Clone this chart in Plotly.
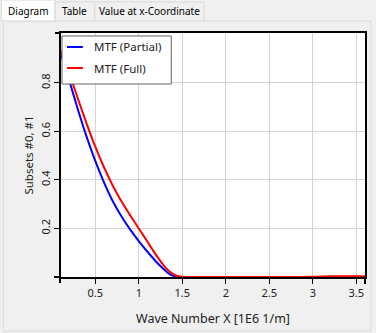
import plotly.graph_objects as go

# ---- data ----
wave_number = [0.1, 0.2, 0.3, 0.4, 0.5, 0.6, 0.7, 0.8, 0.9, 1.0, 1.1, 1.2, 1.3, 1.35, 1.4, 1.45,
               1.5, 1.6, 1.8, 2.0, 2.2, 2.4, 2.6, 2.8, 3.0, 3.1, 3.2, 3.3, 3.4, 3.5, 3.6]
mtf_partial = [0.925, 0.81, 0.69, 0.578, 0.478, 0.39, 0.313, 0.25, 0.196, 0.148, 0.104, 0.063, 0.028, 0.013, 0.004, 0.0005,
               0.0, 0.0, 0.0, 0.0, 0.0, 0.0, 0.0, 0.0, 0.0, 0.0, 0.0, 0.0, 0.0, 0.0, 0.0]
mtf_full = [0.935, 0.84, 0.735, 0.632, 0.537, 0.452, 0.377, 0.312, 0.255, 0.2, 0.145, 0.09, 0.042, 0.024, 0.011, 0.004,
            0.0, 0.0, 0.0, 0.0, 0.0, 0.0, 0.0, 0.0, 0.001, 0.002, 0.003, 0.003, 0.003, 0.003, 0.003]
series_names = ["MTF (Partial)", "MTF (Full)"]
series_colors = ["#0000ff", "#ff0000"]
x_ticks = [0.5, 1, 1.5, 2, 2.5, 3, 3.5]
x_tick_labels = ["0.5", "1", "1.5", "2", "2.5", "3", "3.5"]
y_ticks = [0.2, 0.4, 0.6, 0.8]
y_tick_labels = ["0.2", "0.4", "0.6", "0.8"]
tab_labels = ["Diagram", "Table", "Value at x-Coordinate"]

W, H = 376, 333
L, R, T, B = 61, 367, 33, 277
FONT = "Noto Sans"


def px(x):
    return (x - L) / (R - L)


def py(y):
    return (B - y) / (B - T)


fig = go.Figure()
for ys, name, col in zip([mtf_partial, mtf_full], series_names, series_colors):
    fig.add_trace(go.Scatter(x=wave_number, y=ys, mode="lines", name=name,
                             line=dict(color=col, width=2, shape="spline", smoothing=0.6)))

shapes = []
annotations = []
# outer panel border
shapes.append(dict(type="rect", xref="paper", yref="paper", x0=px(3), x1=px(373), y0=py(331), y1=py(21),
                   line=dict(color="#dcdcdc", width=1), fillcolor="rgba(0,0,0,0)", layer="below"))
# tabs
tab_edges = [(1, 55), (55, 95), (95, 205)]
for i, ((a, b), lab) in enumerate(zip(tab_edges, tab_labels)):
    sel = i == 0
    shapes.append(dict(type="rect", xref="paper", yref="paper", x0=px(a), x1=px(b),
                       y0=py(21), y1=py(0 if sel else 2),
                       line=dict(color="#d9d9d9", width=1),
                       fillcolor="#ffffff" if sel else "#f0f0f0", layer="below"))
    annotations.append(dict(text=lab, xref="paper", yref="paper", x=px((a + b) / 2), y=py(11),
                            xanchor="center", yanchor="middle", showarrow=False,
                            font=dict(family=FONT, size=10, color="#000000")))

# axis end marks
for (x0, y0, x1, y1) in [(55, 33, 61, 33), (54, 277, 61, 277), (60, 277, 60, 283), (367, 277, 367, 284)]:
    shapes.append(dict(type="line", xref="paper", yref="paper", x0=px(x0), x1=px(x1), y0=py(y0), y1=py(y1),
                       line=dict(color="#000000", width=2)))

# legend box (drawn like the original control's legend)
shapes.append(dict(type="rect", xref="paper", yref="paper", x0=px(62), x1=px(172), y0=py(84), y1=py(36),
                   line=dict(color="#646464", width=1), fillcolor="#ffffff", layer="above"))
for k, (name, col) in enumerate(zip(series_names, series_colors)):
    yc = 47 + 21 * k
    shapes.append(dict(type="line", xref="paper", yref="paper", x0=px(67), x1=px(83), y0=py(yc), y1=py(yc),
                       line=dict(color=col, width=2), layer="above"))
    annotations.append(dict(text=name, xref="paper", yref="paper", x=px(92), y=py(yc),
                            xanchor="left", yanchor="middle", showarrow=False,
                            font=dict(family=FONT, size=11.5, color="#222222")))

fig.update_layout(
    width=W, height=H,
    margin=dict(l=L, r=W - R, t=T, b=H - B),
    paper_bgcolor="#f0f0f0", plot_bgcolor="#ffffff",
    font=dict(family=FONT, size=11, color="#222222"),
    showlegend=False,
    shapes=shapes,
    annotations=annotations,
    xaxis=dict(range=[0.106, 3.6], tickvals=x_ticks, ticktext=x_tick_labels,
               showgrid=True, gridcolor="#d3d3d3", gridwidth=1,
               showline=True, linecolor="#000000", linewidth=2, mirror=True,
               ticks="outside", ticklen=5, tickcolor="#000000", tickwidth=1,
               zeroline=False, tickfont=dict(family=FONT, size=11, color="#222222"),
               title=dict(text="Wave Number X [1E6 1/m]", standoff=15,
                          font=dict(family=FONT, size=12.5, color="#222222"))),
    yaxis=dict(range=[0, 1.005], tickvals=y_ticks, ticktext=y_tick_labels, tickangle=-90,
               showgrid=True, gridcolor="#d3d3d3", gridwidth=1,
               showline=True, linecolor="#000000", linewidth=2, mirror=True,
               ticks="outside", ticklen=5, tickcolor="#000000", tickwidth=1,
               zeroline=False, tickfont=dict(family=FONT, size=11, color="#222222"),
               title=dict(text="Subsets #0, #1", standoff=2,
                          font=dict(family=FONT, size=11.5, color="#222222"))),
)

fig.write_html("out.html")
